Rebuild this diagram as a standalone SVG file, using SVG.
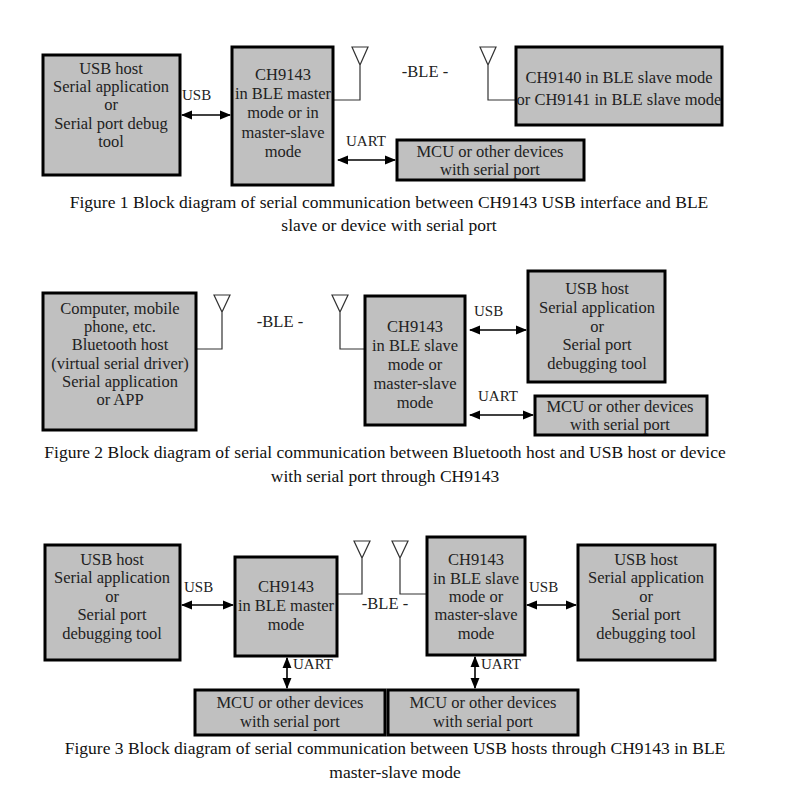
<svg xmlns="http://www.w3.org/2000/svg" width="800" height="800" viewBox="0 0 800 800">
<defs>
<marker id="ah" viewBox="0 0 10 10" refX="9" refY="5" markerWidth="7" markerHeight="7" orient="auto-start-reverse"><path d="M0,1 L10,5 L0,9 z" fill="#000"/></marker>
<style>
.b{fill:#c0c0c0;stroke:#000;stroke-width:3}
text{font-family:"Liberation Serif",serif;font-size:16.5px;fill:#222;text-anchor:middle}
.s{text-anchor:start;font-size:15px}
.c{font-size:17.5px;fill:#111}
.w{fill:none;stroke:#333;stroke-width:1.2}
.a{stroke:#000;stroke-width:1.6;fill:none;marker-start:url(#ah);marker-end:url(#ah)}
</style>
</defs>
<rect width="800" height="800" fill="#fff"/>
<g id="connectors">
<path class="a" d="M182,115 H230"/>
<path class="a" d="M338,160 H395"/>
<path class="a" d="M470,330 H526"/>
<path class="a" d="M470,415 H533"/>
<path class="a" d="M182,605 H233"/>
<path class="a" d="M527,605 H576"/>
<path class="a" d="M287,658 V688"/>
<path class="a" d="M475,657 V688"/>
<path class="w" d="M352,47 L368,47 L360,65 Z M360,65 V100 H333"/>
<path class="w" d="M480,47 L496,47 L488,65 Z M488,65 V100 H516"/>
<path class="w" d="M214,295 L230,295 L222,312 Z M222,312 V349 H196"/>
<path class="w" d="M332,295 L348,295 L340,312 Z M340,312 V349 H365"/>
<path class="w" d="M354,541 L370,541 L362,558 Z M362,558 V594 H337"/>
<path class="w" d="M392,541 L408,541 L400,558 Z M400,558 V594 H427"/>
</g>
<g id="labels">
<text class="s" x="182" y="100">USB</text>
<text class="s" x="346" y="146">UART</text>
<text x="425" y="77">-BLE -</text>
<text x="280" y="327">-BLE -</text>
<text class="s" x="474" y="316">USB</text>
<text class="s" x="478" y="401">UART</text>
<text class="s" x="184" y="592">USB</text>
<text x="385" y="609">-BLE -</text>
<text class="s" x="529" y="592">USB</text>
<text class="s" x="293" y="669">UART</text>
<text class="s" x="481" y="669">UART</text>
</g>
<g id="n1"><rect class="b" x="43" y="55" width="137" height="120"/>
<text x="111" y="74">USB host</text><text x="111" y="92">Serial application</text><text x="111" y="110">or</text><text x="111" y="129">Serial port debug</text><text x="111" y="147">tool</text></g>
<g id="n2"><rect class="b" x="232" y="47" width="101" height="138"/>
<text x="283" y="80">CH9143</text><text x="283" y="99">in BLE master</text><text x="283" y="118">mode or in</text><text x="283" y="138">master-slave</text><text x="283" y="157">mode</text></g>
<g id="n3"><rect class="b" x="516" y="47" width="206" height="78"/>
<text x="619" y="83">CH9140 in BLE slave mode</text><text x="619" y="105">or CH9141 in BLE slave mode</text></g>
<g id="n4"><rect class="b" x="397" y="140" width="187" height="40"/>
<text x="490" y="157">MCU or other devices</text><text x="490" y="175">with serial port</text></g>
<text class="c" x="389" y="208">Figure 1 Block diagram of serial communication between CH9143 USB interface and BLE</text>
<text class="c" x="389" y="231">slave or device with serial port</text>
<g id="n5"><rect class="b" x="43" y="293" width="153" height="137"/>
<text x="120" y="314">Computer, mobile</text><text x="120" y="332">phone, etc.</text><text x="120" y="350">Bluetooth host</text><text x="120" y="369">(virtual serial driver)</text><text x="120" y="387">Serial application</text><text x="120" y="405">or APP</text></g>
<g id="n6"><rect class="b" x="365" y="296" width="100" height="129"/>
<text x="415" y="332">CH9143</text><text x="415" y="351">in BLE slave</text><text x="415" y="370">mode or</text><text x="415" y="389">master-slave</text><text x="415" y="408">mode</text></g>
<g id="n7"><rect class="b" x="528" y="271" width="137" height="111"/>
<text x="597" y="294">USB host</text><text x="597" y="313">Serial application</text><text x="597" y="332">or</text><text x="597" y="350">Serial port</text><text x="597" y="369">debugging tool</text></g>
<g id="n8"><rect class="b" x="535" y="396" width="172" height="39"/>
<text x="620" y="412">MCU or other devices</text><text x="620" y="430">with serial port</text></g>
<text class="c" x="385" y="458">Figure 2 Block diagram of serial communication between Bluetooth host and USB host or device</text>
<text class="c" x="385" y="482">with serial port through CH9143</text>
<g id="n9"><rect class="b" x="45" y="545" width="135" height="115"/>
<text x="112" y="565">USB host</text><text x="112" y="583">Serial application</text><text x="112" y="602">or</text><text x="112" y="620">Serial port</text><text x="112" y="639">debugging tool</text></g>
<g id="n10"><rect class="b" x="235" y="557" width="102" height="99"/>
<text x="286" y="592">CH9143</text><text x="286" y="611">in BLE master</text><text x="286" y="630">mode</text></g>
<g id="n11"><rect class="b" x="427" y="537" width="98" height="118"/>
<text x="476" y="565">CH9143</text><text x="476" y="584">in BLE slave</text><text x="476" y="602">mode or</text><text x="476" y="620">master-slave</text><text x="476" y="639">mode</text></g>
<g id="n12"><rect class="b" x="578" y="545" width="137" height="115"/>
<text x="646" y="565">USB host</text><text x="646" y="583">Serial application</text><text x="646" y="602">or</text><text x="646" y="620">Serial port</text><text x="646" y="639">debugging tool</text></g>
<g id="n13"><rect class="b" x="195" y="690" width="190" height="45"/>
<text x="290" y="708">MCU or other devices</text><text x="290" y="727">with serial port</text></g>
<g id="n14"><rect class="b" x="388" y="690" width="190" height="45"/>
<text x="483" y="708">MCU or other devices</text><text x="483" y="727">with serial port</text></g>
<text class="c" x="395" y="754">Figure 3 Block diagram of serial communication between USB hosts through CH9143 in BLE</text>
<text class="c" x="395" y="778">master-slave mode</text>
</svg>
